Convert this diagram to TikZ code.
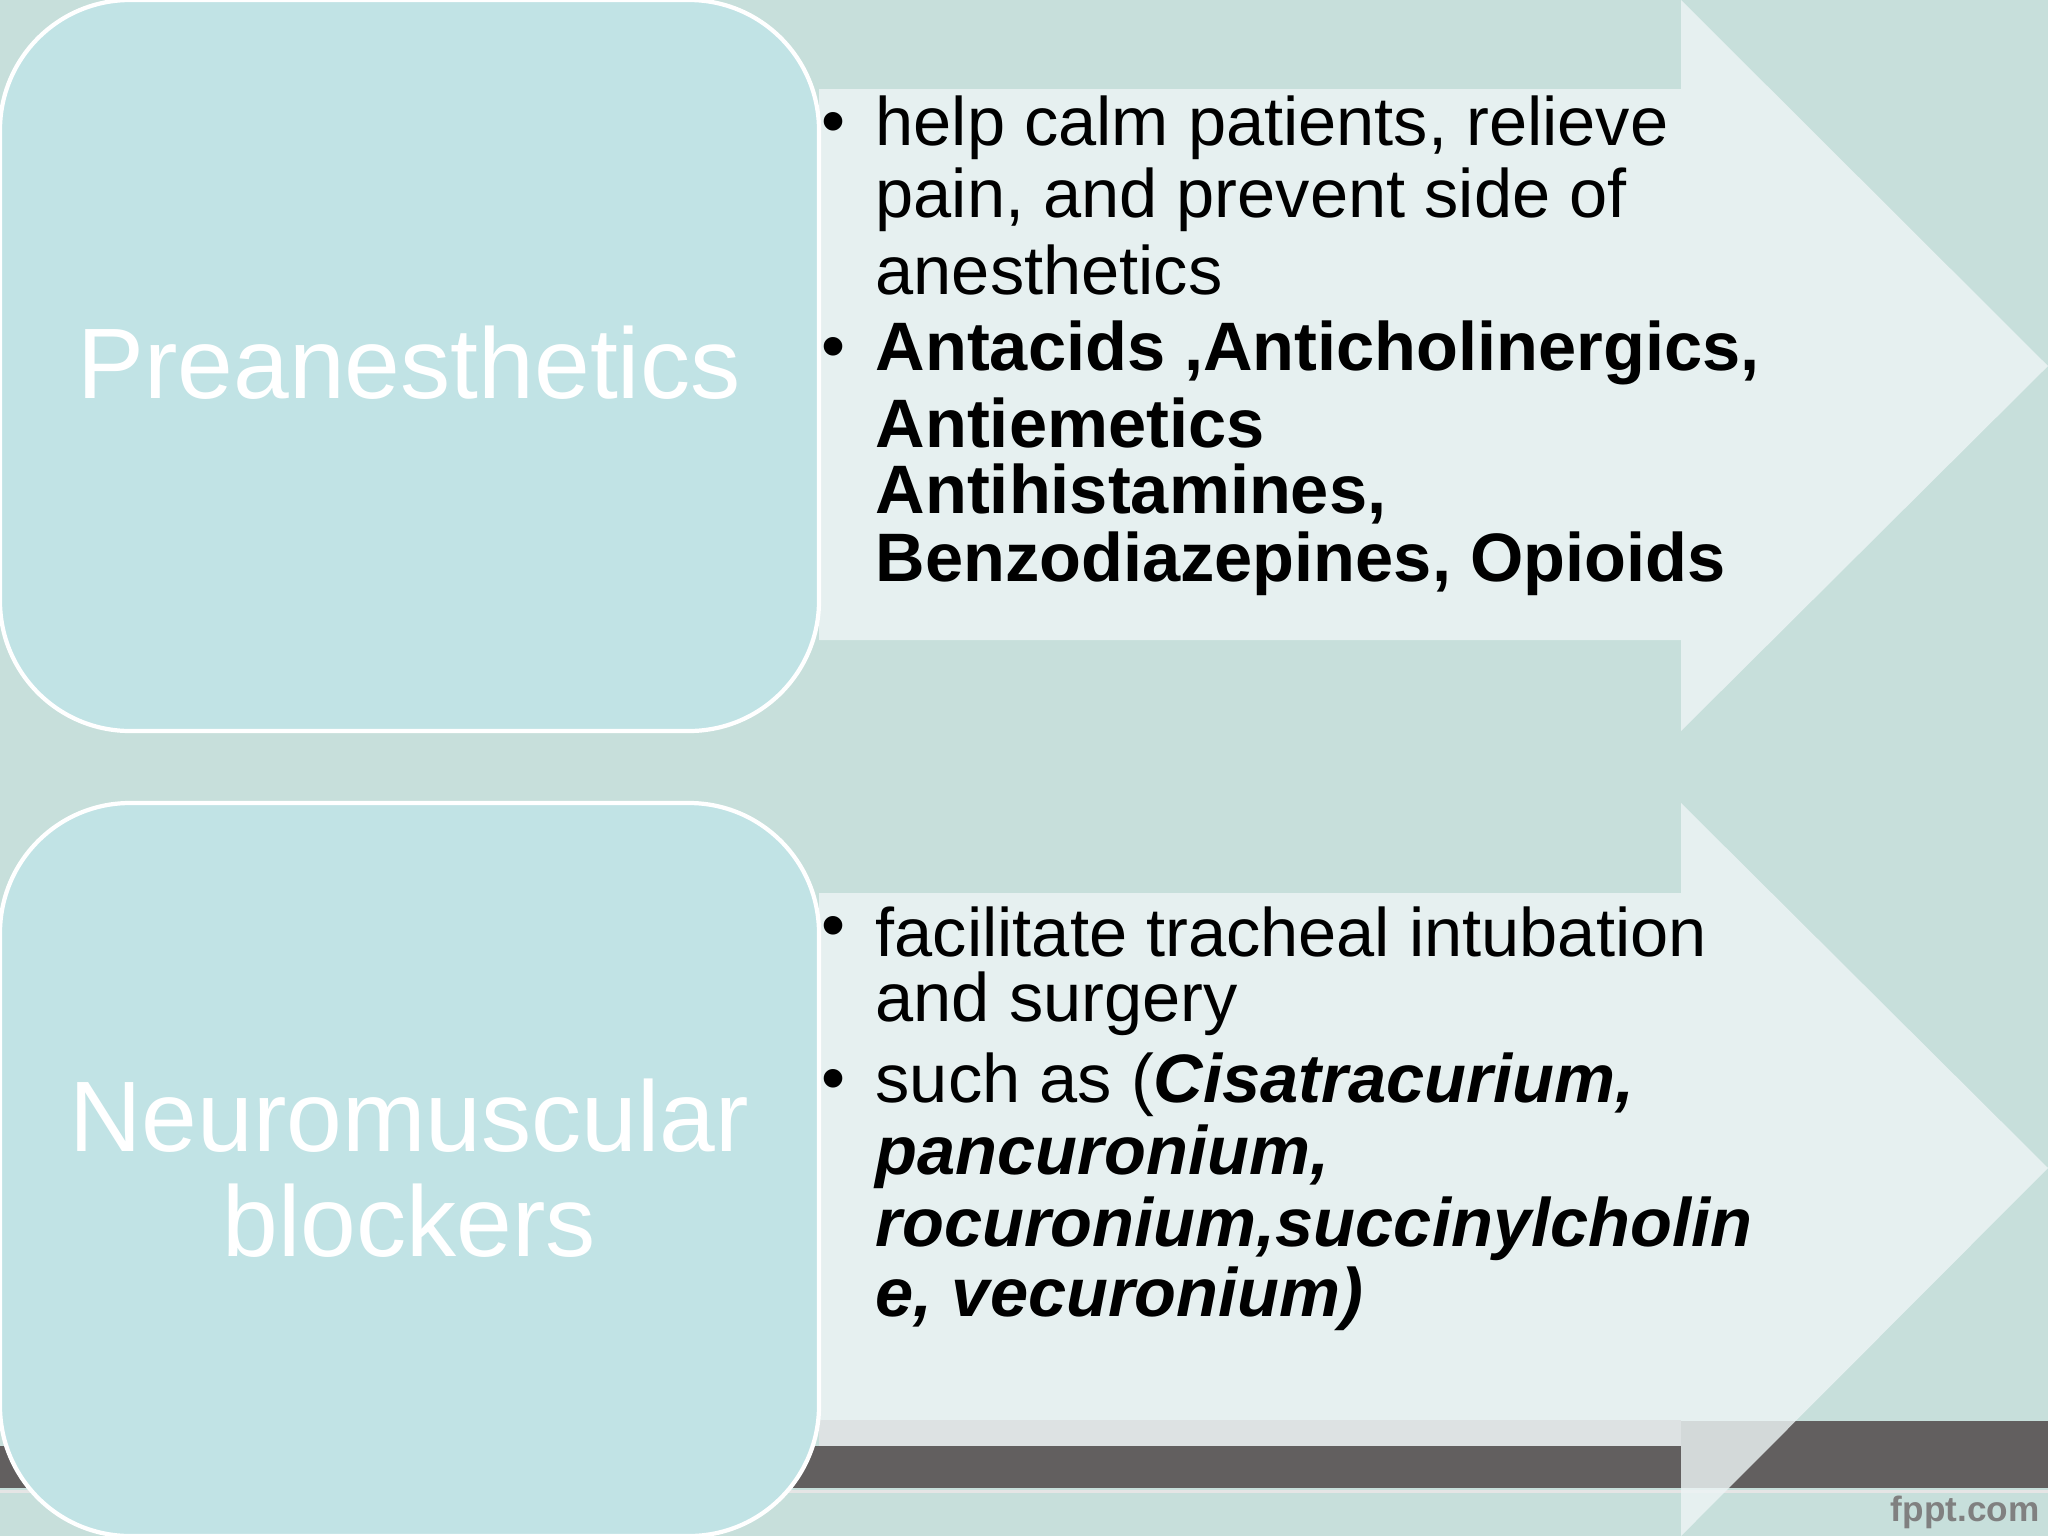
\documentclass[tikz,border=0pt]{standalone}
\usepackage{fontspec}
\setmainfont{Liberation Sans}
\begin{document}
\begin{tikzpicture}[x=0.01cm,y=-0.01cm,
  rbox/.style={fill=boxcol,draw=white,line width=1.2pt,rounded corners=1.3cm},
  arr/.style={fill=arrcol,fill opacity=0.82},
  ln/.style={anchor=west,inner sep=0pt,font=\fontsize{19.5}{22}\selectfont,text=black},
  lnb/.style={ln,font=\fontsize{19.5}{22}\selectfont\bfseries},
  lnbi/.style={ln,font=\fontsize{19.5}{22}\selectfont\bfseries\itshape},
  ttl/.style={inner sep=0pt,font=\fontsize{28.5}{30}\selectfont,text=white,align=center},
  bul/.style={anchor=center,inner sep=0pt,font=\fontsize{19.5}{22}\selectfont}]
\definecolor{bgcol}{HTML}{C7DFDB}
\definecolor{boxcol}{HTML}{C1E3E5}
\definecolor{arrcol}{HTML}{EDF4F5}
\definecolor{barcol}{HTML}{625F5F}
\useasboundingbox (0,0) rectangle (2048,1536);
\fill[bgcol] (0,0) rectangle (2048,1536);
\fill[barcol] (0,1446) rectangle (1681,1488);
\fill[barcol] (1681,1421) rectangle (2048,1488);
\fill[white!80!gray] (0,1490) rectangle (2048,1493);
% arrows
\path[arr] (819,89) -- (1681,89) -- (1681,0) -- (2048,366) -- (1681,731) -- (1681,640) -- (819,640) -- cycle;
\path[arr] (819,893) -- (1681,893) -- (1681,803) -- (2048,1168) -- (1681,1536) -- (1681,1420) -- (819,1420) -- cycle;
\fill[gray!15!arrcol] (819,1420) rectangle (1681,1446);
% boxes
\path[rbox] (0,0) rectangle (819,731);
\path[rbox] (0,803) rectangle (819,1536);
\node[ttl] (t1) at (409,363) {Preanesthetics};
\node[ttl] (t2) at (409,1168) {Neuromuscular\\blockers};
% bullets top
\node[bul] (d1) at (833,128) {•};
\node[ln] (l1) at (875,128) {help calm patients, relieve};
\node[ln] (l2) at (875,200) {pain, and prevent side of};
\node[ln] (l3) at (875,270) {anesthetics};
\node[bul] (d2) at (833,353) {•};
\node[lnb] (l4) at (875,353) {Antacids ,Anticholinergics,};
\node[lnb] (l5) at (875,423) {Antiemetics};
\node[lnb] (l6) at (875,494) {Antihistamines,};
\node[lnb] (l7) at (875,564) {Benzodiazepines, Opioids};
% bullets bottom
\node[bul] (d3) at (833,932) {•};
\node[ln] (m1) at (875,932) {facilitate tracheal intubation};
\node[ln] (m2) at (875,1004) {and surgery};
\node[bul] (d4) at (833,1085) {•};
\node[ln] (m3) at (875,1085) {such as (\textbf{\textit{Cisatracurium,}}};
\node[lnbi] (m4) at (875,1157) {pancuronium,};
\node[lnbi] (m5) at (875,1229) {rocuronium,succinylcholin};
\node[lnbi] (m6) at (875,1299) {e, vecuronium)};
\node[anchor=east,inner sep=0pt,text=gray,font=\fontsize{10}{11}\selectfont\bfseries] (f) at (2040,1512) {fppt.com};
\end{tikzpicture}
\end{document}
